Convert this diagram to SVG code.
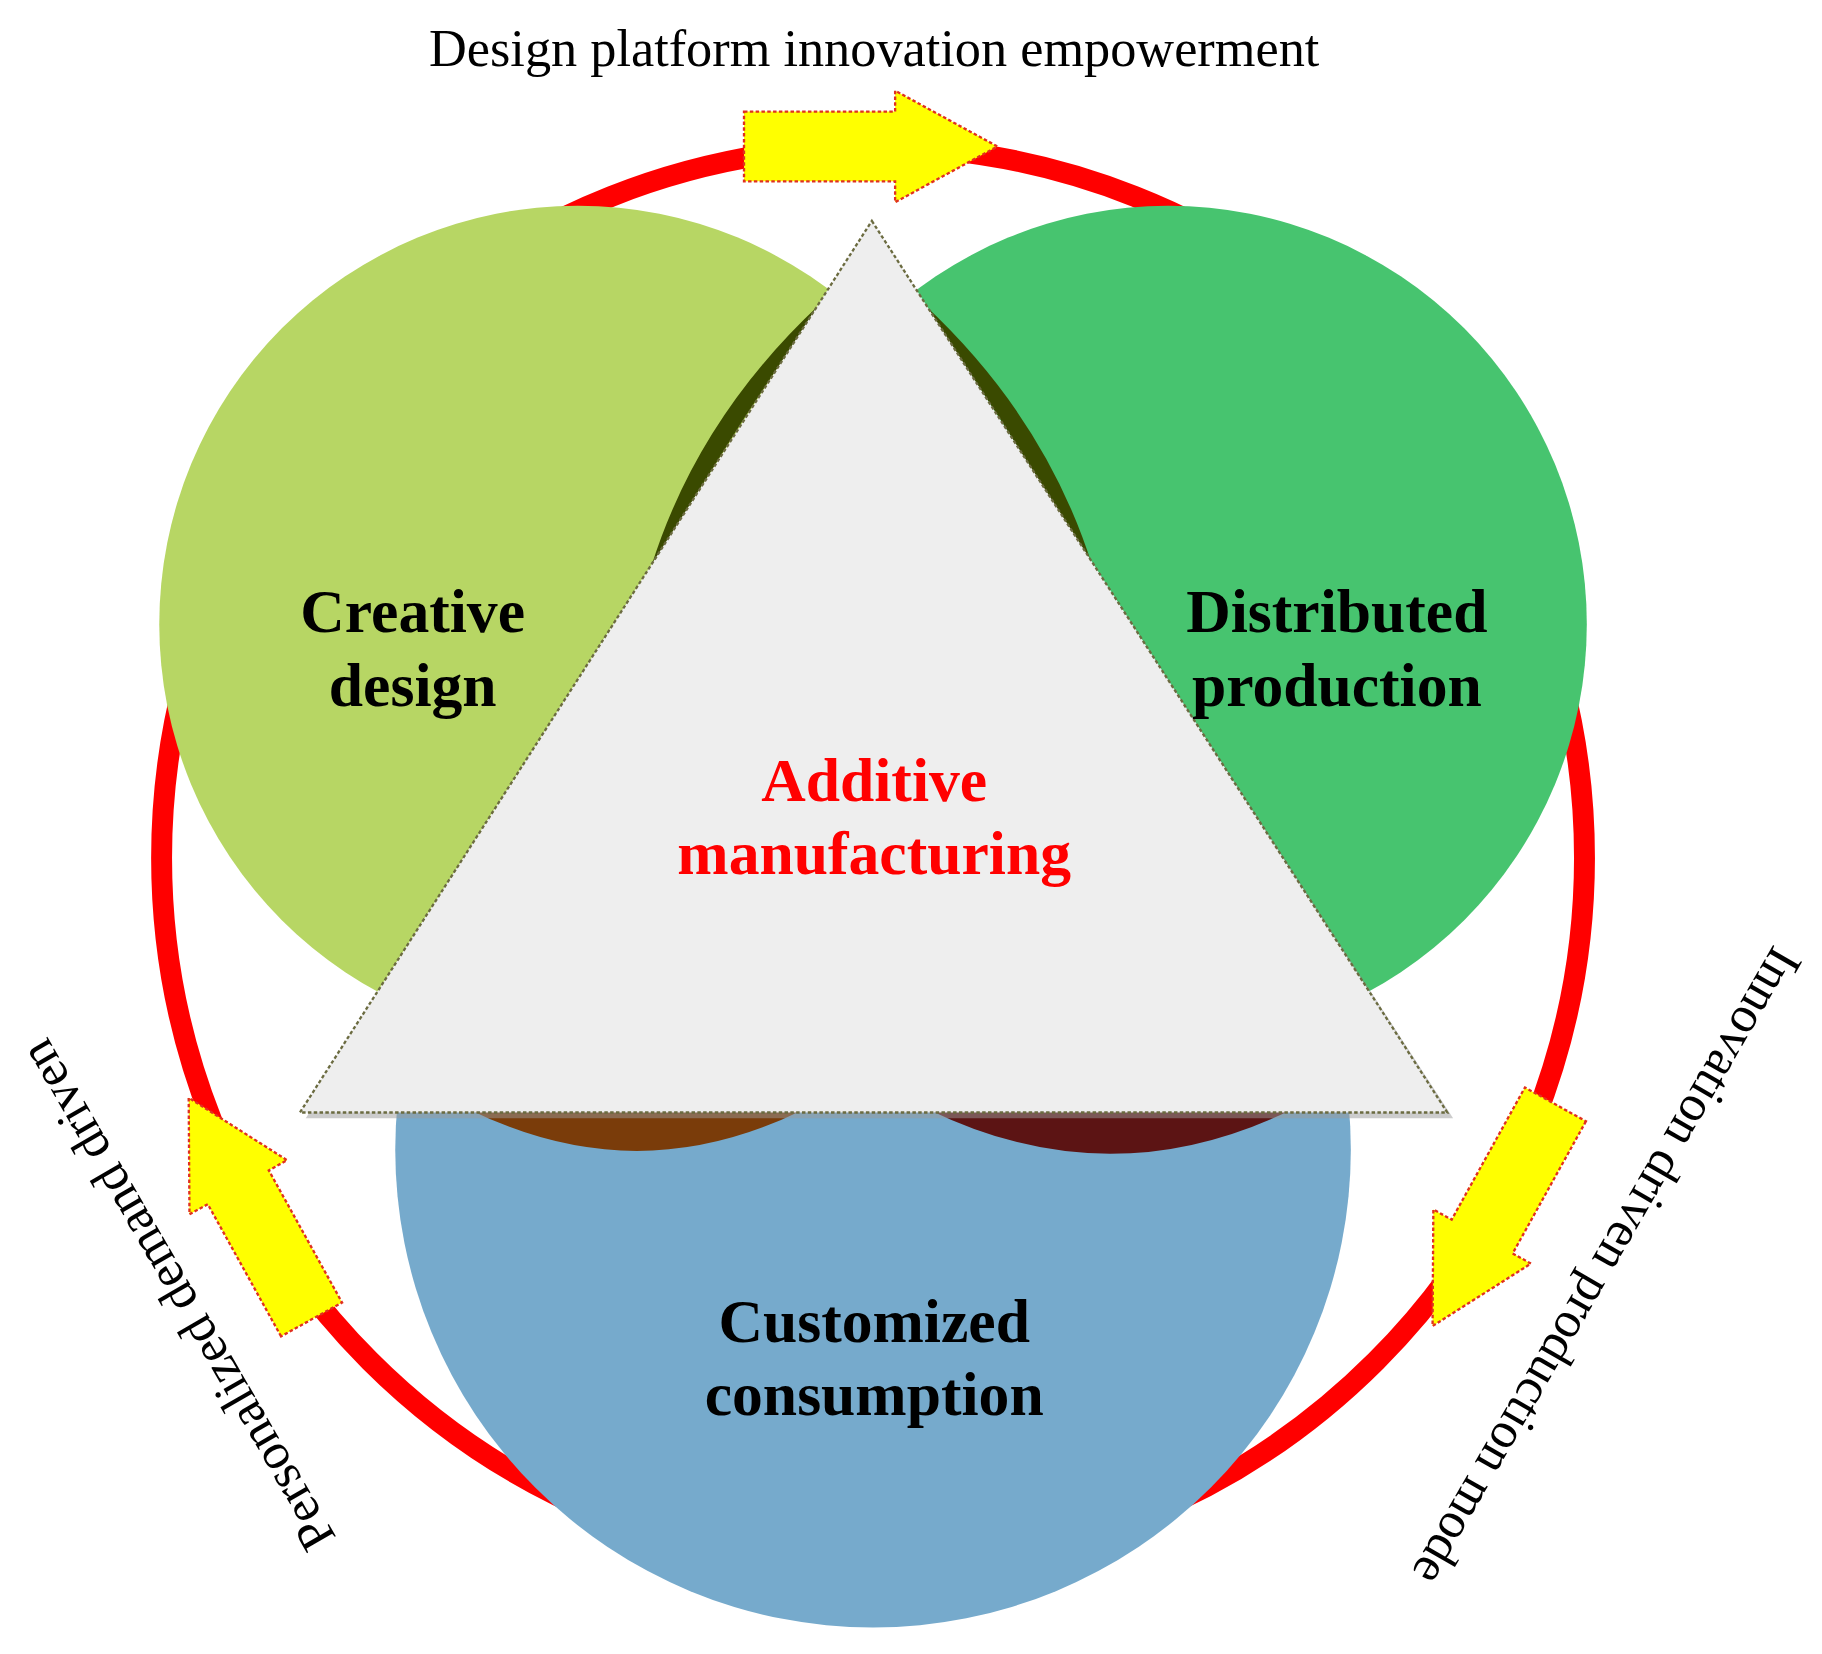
<svg xmlns="http://www.w3.org/2000/svg" width="1822" height="1654" viewBox="0 0 1822 1654">
<style>
.t{font-family:"Liberation Serif",serif;text-anchor:middle}
.b{font-weight:bold;font-size:53px;fill:#000}
.arr{fill:#ffff00;stroke:#e03020;stroke-width:2;stroke-dasharray:3 2}
</style>
<defs>
<path id="ar" d="M0,-30 L130,-30 L130,-48 L218,0 L130,48 L130,30 L0,30 Z"/>
</defs>
<rect width="1822" height="1654" fill="#fff"/>
<g transform="scale(1.1625)">
<g id="ring"><circle cx="751" cy="738" r="612" fill="none" stroke="#ff0000" stroke-width="18"/></g>
<g id="creative"><circle cx="497" cy="537" r="360" fill="#b7d664"/></g>
<g id="distributed"><circle cx="1005" cy="537" r="360" fill="#47c46f"/></g>
<g id="customized"><circle cx="751" cy="989" r="411" fill="#76aacc"/></g>
<g id="overlaps">
<path d="M705,262 Q600,360 560,488 L640,360 Z" fill="#3a4a00"/>
<path d="M795,262 Q900,360 940,488 L860,360 Z" fill="#3a4a00"/>
<path d="M405,955 Q548,1025 690,955 Z" fill="#7a3c0a"/>
<path d="M800,955 Q955,1030 1110,955 Z" fill="#5c1414"/>
</g>
<g id="triangle">
<polygon points="753,197 1250,962 263,962" fill="#9a9a9a" opacity="0.5"/>
<polygon points="750,190 1245,957 258,957" fill="#eeeeee" stroke="#6b6b40" stroke-width="2" stroke-dasharray="3 2"/>
</g>
<g id="connectors">
<use href="#ar" class="arr" transform="translate(640,126)"/>
<use href="#ar" class="arr" transform="translate(1338,950) rotate(119)"/>
<use href="#ar" class="arr" transform="translate(268,1135) rotate(-119)"/>
</g>
<g id="labels">
<text class="t" x="752" y="57" font-size="45">Design platform innovation empowerment</text>
<text class="t b" x="355" y="544">Creative</text>
<text class="t b" x="355" y="607">design</text>
<text class="t b" x="1150" y="544">Distributed</text>
<text class="t b" x="1150" y="607">production</text>
<text class="t b" x="752" y="689" style="fill:#ff0000">Additive</text>
<text class="t b" x="752" y="752" style="fill:#ff0000">manufacturing</text>
<text class="t b" x="752" y="1154">Customized</text>
<text class="t b" x="752" y="1217">consumption</text>
<text class="t" font-size="44" transform="translate(1370,1082) rotate(120)">Innovation driven production mode</text>
<text class="t" font-size="44" transform="translate(165,1107) rotate(-120)">Personalized demand driven</text>
</g>
</g>
</svg>
